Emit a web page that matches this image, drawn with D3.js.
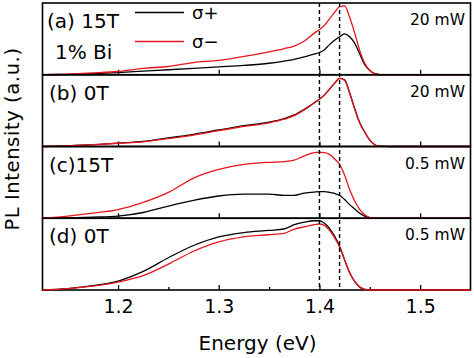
<!DOCTYPE html>
<html>
<head>
<meta charset="utf-8">
<script src="https://cdn.jsdelivr.net/npm/d3@7"></script>
<style>
  body { margin: 0; background: #fff; }
  text { font-family: "DejaVu Sans", sans-serif; fill: #000; }
</style>
</head>
<body>
<div id="plot"></div>
<script>
// energy grid (eV), shared by all curves
const energy = [1.125, 1.15, 1.175, 1.2, 1.225, 1.25, 1.275, 1.3, 1.325, 1.35, 1.365, 1.375, 1.385, 1.395, 1.4,
                1.405, 1.41, 1.415, 1.42, 1.425, 1.43, 1.435, 1.44, 1.445, 1.45, 1.455, 1.46, 1.47, 1.5, 1.55]

// (a) 15T, 20 mW
const aPlus  = [0, 0.005, 0.015, 0.03, 0.05, 0.07, 0.09, 0.11, 0.13, 0.16, 0.19, 0.215, 0.25, 0.29, 0.31,
                0.35, 0.42, 0.48, 0.53, 0.57, 0.53, 0.44, 0.29, 0.14, 0.06, 0.015, 0.003, 0, 0, 0]
const aMinus = [0, 0.01, 0.025, 0.045, 0.09, 0.115, 0.17, 0.2, 0.255, 0.32, 0.365, 0.4, 0.47, 0.58, 0.63,
                0.69, 0.78, 0.87, 0.95, 0.96, 0.8, 0.58, 0.34, 0.16, 0.06, 0.015, 0.003, 0, 0, 0]
// (b) 0T, 20 mW
const bPlus  = [0, 0.01, 0.025, 0.047, 0.07, 0.12, 0.17, 0.23, 0.29, 0.34, 0.39, 0.44, 0.52, 0.61, 0.66,
                0.72, 0.8, 0.88, 0.95, 0.93, 0.75, 0.53, 0.33, 0.2, 0.09, 0.025, 0.005, 0, 0, 0]
const bMinus = [0, 0.01, 0.025, 0.045, 0.065, 0.11, 0.16, 0.22, 0.28, 0.33, 0.38, 0.43, 0.51, 0.61, 0.66,
                0.72, 0.8, 0.88, 0.95, 0.92, 0.74, 0.52, 0.33, 0.2, 0.09, 0.025, 0.005, 0, 0, 0]
// (c) 15T, 0.5 mW
const cPlus  = [0, 0.005, 0.015, 0.03, 0.08, 0.17, 0.25, 0.31, 0.335, 0.335, 0.32, 0.32, 0.35, 0.365, 0.37,
                0.37, 0.36, 0.345, 0.32, 0.26, 0.19, 0.13, 0.07, 0.03, 0.01, 0.002, 0, 0, 0, 0]
const cMinus = [0, 0.03, 0.07, 0.12, 0.22, 0.36, 0.56, 0.68, 0.75, 0.78, 0.79, 0.81, 0.87, 0.915, 0.92,
                0.915, 0.89, 0.83, 0.75, 0.6, 0.4, 0.24, 0.12, 0.05, 0.01, 0.002, 0, 0, 0, 0]
// (d) 0T, 0.5 mW
const dPlus  = [0, 0.02, 0.06, 0.125, 0.26, 0.45, 0.62, 0.74, 0.8, 0.83, 0.85, 0.91, 0.945, 0.965, 0.965,
                0.93, 0.86, 0.75, 0.61, 0.42, 0.24, 0.12, 0.04, 0.01, 0, 0, 0, 0, 0, 0]
const dMinus = [0, 0.02, 0.055, 0.11, 0.2, 0.36, 0.54, 0.67, 0.74, 0.77, 0.79, 0.85, 0.88, 0.91, 0.92,
                0.9, 0.83, 0.73, 0.6, 0.42, 0.24, 0.12, 0.04, 0.01, 0, 0, 0, 0, 0, 0]

const panelLabels = ['(a) 15T', '(b) 0T', '(c)15T', '(d) 0T']
const powerLabels = ['20 mW', '20 mW', '0.5 mW', '0.5 mW']
const plusSeries  = [aPlus, bPlus, cPlus, dPlus]
const minusSeries = [aMinus, bMinus, cMinus, dMinus]
const majorTicks = [1.2, 1.3, 1.4, 1.5]
const minorTicks = [1.25, 1.35, 1.45]
const markers = [1.40, 1.42]

const red = '#e8141c'
const W = 474, H = 358
const plotLeft = 42.5, plotRight = 470.5, plotTop = 3, plotBottom = 290
const ph = (plotBottom - plotTop) / 4

const svg = d3.select('#plot').append('svg')
  .attr('width', W).attr('height', H)

const x = d3.scaleLinear().domain([1.125, 1.55]).range([plotLeft, plotRight])

const line = function(y, vals) {
  return d3.line()
    .x((d, i) => x(energy[i]))
    .y(d => y(d))
    .curve(d3.curveMonotoneX)(vals)
}

for (let i = 0; i < 4; i++) {
  const y0 = plotTop + i * ph
  const y = d3.scaleLinear().domain([0, 1]).range([y0 + ph, y0])
  const g = svg.append('g')

  // ticks point inward, labels only on the last panel
  const ax = g.append('g')
    .attr('transform', `translate(0,${y0 + ph})`)
    .call(d3.axisBottom(x).tickValues(majorTicks).tickSizeInner(-5).tickSizeOuter(0)
      .tickPadding(10).tickFormat(i === 3 ? d3.format('.1f') : ''))
  ax.select('.domain').remove()
  ax.selectAll('line').attr('stroke-width', 1.3)
  ax.selectAll('text').style('font-size', '19px').style('font-family', '"DejaVu Sans", sans-serif')

  if (i === 3) {
    const mx = g.append('g')
      .attr('transform', `translate(0,${y0 + ph})`)
      .call(d3.axisBottom(x).tickValues(minorTicks).tickSize(-3).tickFormat(''))
    mx.select('.domain').remove()
    mx.selectAll('line').attr('stroke-width', 1.3)
  }

  g.append('rect')
    .attr('x', plotLeft).attr('y', y0).attr('width', plotRight - plotLeft).attr('height', ph)
    .attr('fill', 'none').attr('stroke', '#000').attr('stroke-width', 1.6)

  g.append('path').attr('d', line(y, plusSeries[i]))
    .attr('fill', 'none').attr('stroke', '#000').attr('stroke-width', 1.3)
  g.append('path').attr('d', line(y, minusSeries[i]))
    .attr('fill', 'none').attr('stroke', red).attr('stroke-width', 1.3)

  g.append('text')
    .attr('x', i === 0 ? 47 : 49).attr('y', y0 + 25)
    .style('font-size', '20px')
    .text(panelLabels[i])

  g.append('text')
    .attr('x', 465).attr('y', y0 + 22)
    .attr('text-anchor', 'end')
    .style('font-size', '15.5px')
    .text(powerLabels[i])
}

// dashed markers at 1.40 and 1.42 eV
svg.selectAll('.marker')
  .data(markers)
  .enter()
  .append('line')
    .attr('x1', d => x(d)).attr('x2', d => x(d))
    .attr('y1', plotTop).attr('y2', plotBottom)
    .attr('stroke', '#000').attr('stroke-width', 1.4)
    .attr('stroke-dasharray', '4,3')

svg.append('text')
  .attr('x', 55).attr('y', 59)
  .style('font-size', '20px')
  .text('1% Bi')

// legend
const legend = [{name: 'σ+', color: '#000', y: 12.5}, {name: 'σ−', color: red, y: 41.5}]
svg.selectAll('.leg')
  .data(legend)
  .enter()
  .append('line')
    .attr('x1', 135).attr('x2', 184)
    .attr('y1', d => d.y).attr('y2', d => d.y)
    .attr('stroke', d => d.color).attr('stroke-width', 1.4)
svg.selectAll('.legtext')
  .data(legend)
  .enter()
  .append('text')
    .attr('x', 192).attr('y', d => d.y + 6)
    .style('font-size', '18px')
    .text(d => d.name)

// axis titles
svg.append('text')
  .attr('x', (plotLeft + plotRight) / 2 + 1).attr('y', 350)
  .attr('text-anchor', 'middle')
  .style('font-size', '20px')
  .text('Energy (eV)')

svg.append('text')
  .attr('transform', 'rotate(-90)')
  .attr('x', -139).attr('y', 18.5)
  .attr('text-anchor', 'middle')
  .style('font-size', '19.5px')
  .style('letter-spacing', '0.6px')
  .text('PL Intensity (a.u.)')
</script>
</body>
</html>
